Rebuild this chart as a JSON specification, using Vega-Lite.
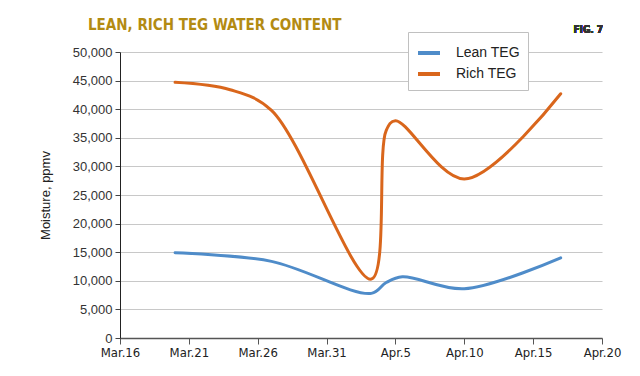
{
  "$schema": "https://vega.github.io/schema/vega-lite/v6.json",
  "autosize": {"type": "none"},
  "width": 482,
  "height": 286,
  "padding": {"left": 120, "top": 52, "right": 38, "bottom": 38},
  "background": "white",
  "title": {
    "text": "LEAN, RICH TEG WATER CONTENT",
    "anchor": "start",
    "frame": "group",
    "dx": -32,
    "dy": 16,
    "offset": 8,
    "font": "DejaVu Sans Condensed",
    "fontSize": 15,
    "fontWeight": "bold",
    "color": "#b38b12"
  },
  "config": {
    "view": {"stroke": null},
    "font": "Liberation Sans"
  },
  "resolve": {"axis": {"x": "independent", "y": "independent"}},
  "data": {
    "values": [
      {"date": "2013-03-20", "series": "Lean TEG", "moisture": 14900},
      {"date": "2013-03-27", "series": "Lean TEG", "moisture": 13400},
      {"date": "2013-04-03T06:00:00Z", "series": "Lean TEG", "moisture": 7800},
      {"date": "2013-04-04T08:00:00Z", "series": "Lean TEG", "moisture": 9700},
      {"date": "2013-04-05T12:00:00Z", "series": "Lean TEG", "moisture": 10700},
      {"date": "2013-04-10", "series": "Lean TEG", "moisture": 8600},
      {"date": "2013-04-17", "series": "Lean TEG", "moisture": 14000},
      {"date": "2013-03-20", "series": "Rich TEG", "moisture": 44700},
      {"date": "2013-03-24", "series": "Rich TEG", "moisture": 43400},
      {"date": "2013-03-27", "series": "Rich TEG", "moisture": 39800},
      {"date": "2013-04-03T06:00:00Z", "series": "Rich TEG", "moisture": 10300},
      {"date": "2013-04-04T08:00:00Z", "series": "Rich TEG", "moisture": 36300},
      {"date": "2013-04-05", "series": "Rich TEG", "moisture": 38000},
      {"date": "2013-04-10", "series": "Rich TEG", "moisture": 27800},
      {"date": "2013-04-17", "series": "Rich TEG", "moisture": 42700}
    ]
  },
  "layer": [
    {
      "mark": {"type": "line", "interpolate": "catmull-rom", "strokeWidth": 3, "strokeCap": "round"},
      "encoding": {
        "x": {
          "field": "date",
          "type": "temporal",
          "scale": {"type": "utc", "domain": [{"year": 2013, "month": 3, "date": 16, "utc": true}, {"year": 2013, "month": 4, "date": 20, "utc": true}], "nice": false},
          "axis": {
            "title": null,
            "values": [
              {"year": 2013, "month": 3, "date": 16, "utc": true},
              {"year": 2013, "month": 3, "date": 21, "utc": true},
              {"year": 2013, "month": 3, "date": 26, "utc": true},
              {"year": 2013, "month": 3, "date": 31, "utc": true},
              {"year": 2013, "month": 4, "date": 5, "utc": true},
              {"year": 2013, "month": 4, "date": 10, "utc": true},
              {"year": 2013, "month": 4, "date": 15, "utc": true},
              {"year": 2013, "month": 4, "date": 20, "utc": true}
            ],
            "labelExpr": "utcFormat(datum.value, '%b.%-d')",
            "grid": false,
            "domainColor": "#555555",
            "domainWidth": 1.5,
            "tickColor": "#555555",
            "tickSize": 6,
            "labelFont": "DejaVu Sans Condensed",
            "labelFontSize": 13,
            "labelColor": "#222222",
            "labelPadding": 2,
            "labelFlush": false,
            "labelOverlap": false
          }
        },
        "y": {
          "field": "moisture",
          "type": "quantitative",
          "scale": {"domain": [0, 50000], "nice": false},
          "axis": {
            "title": "Moisture, ppmv",
            "values": [0, 5000, 10000, 15000, 20000, 25000, 30000, 35000, 40000, 45000, 50000],
            "format": ",d",
            "labelOverlap": false,
            "gridColor": "#c8c8c8",
            "gridWidth": 1.2,
            "domainColor": "#222222",
            "tickColor": "#444444",
            "tickSize": 5,
            "labelFont": "Liberation Sans",
            "labelFontSize": 13,
            "labelColor": "#333333",
            "labelPadding": 3,
            "titleFont": "Liberation Sans",
            "titleFontSize": 13,
            "titleFontWeight": "normal",
            "titleColor": "#222222",
            "titlePadding": 20
          }
        },
        "color": {
          "field": "series",
          "type": "nominal",
          "scale": {"domain": ["Lean TEG", "Rich TEG"], "range": ["#4f8cc9", "#d9661c"]},
          "legend": {
            "title": null,
            "orient": "none",
            "legendX": 288,
            "legendY": -20,
            "symbolType": "stroke",
            "symbolSize": 484,
            "symbolStrokeWidth": 4,
            "labelFont": "Liberation Sans",
            "labelFontSize": 14,
            "labelColor": "#222222",
            "strokeColor": "#c0c0c0",
            "fillColor": "white",
            "padding": 8,
            "rowPadding": 0,
            "labelOffset": 14
          }
        }
      }
    },
    {
      "mark": {"type": "text", "font": "DejaVu Sans Condensed", "fontSize": 10, "fontWeight": "bold", "color": "#333333", "clip": false},
      "encoding": {
        "x": {"datum": {"year": 2013, "month": 4, "date": 19, "utc": true}, "type": "temporal", "axis": null},
        "y": {"datum": 53900, "type": "quantitative", "axis": null},
        "text": {"value": "FIG. 7"}
      }
    }
  ]
}
